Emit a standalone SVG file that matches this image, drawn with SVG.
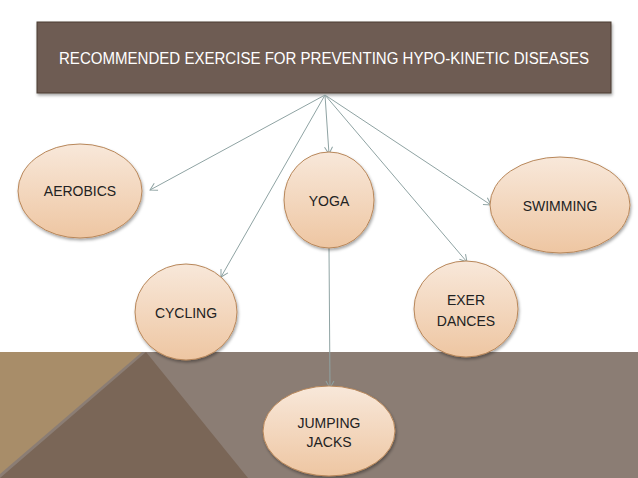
<svg xmlns="http://www.w3.org/2000/svg" width="638" height="478" viewBox="0 0 638 478">
<defs>
<linearGradient id="g" x1="0" y1="0" x2="0" y2="1"><stop offset="0" stop-color="#f8e8da"/><stop offset="1" stop-color="#eec6a2"/></linearGradient>
<marker id="a" markerWidth="10" markerHeight="10" refX="8" refY="5" orient="auto" markerUnits="userSpaceOnUse"><path d="M1,1 L8,5 L1,9" fill="none" stroke="#8fa3a3" stroke-width="1"/></marker>
<filter id="s" x="-20%" y="-20%" width="140%" height="140%"><feDropShadow dx="1" dy="2" stdDeviation="1.5" flood-opacity="0.35"/></filter>
</defs>
<style>
.n{fill:url(#g);stroke:#b8875a;stroke-width:1;filter:url(#s)}
.t{font-family:"Liberation Sans",Arial,sans-serif;font-size:14px;fill:#222;text-anchor:middle}
.c{stroke:#8fa3a3;stroke-width:1;fill:none;marker-end:url(#a)}
</style>
<rect width="638" height="478" fill="#fff"/>
<rect x="0" y="352" width="638" height="126" fill="#8b7d74"/>
<polygon points="0,352 142,352 0,474" fill="#a88d69"/>
<polygon points="146,352 248,478 0,478" fill="#7a6657"/>
<g id="header"><rect x="37" y="22" width="574" height="71" fill="#6e5c52" stroke="#4a3c34" filter="url(#s)"/>
<text x="324" y="64" font-family="Liberation Sans,Arial,sans-serif" font-size="16" fill="#fff" text-anchor="middle" textLength="530" lengthAdjust="spacingAndGlyphs">RECOMMENDED EXERCISE FOR PREVENTING HYPO-KINETIC DISEASES</text></g>
<g id="connectors">
<line class="c" x1="325" y1="95" x2="150" y2="190"/>
<line class="c" x1="325" y1="95" x2="221" y2="277"/>
<line class="c" x1="325" y1="95" x2="329" y2="154"/>
<line class="c" x1="325" y1="95" x2="467" y2="262"/>
<line class="c" x1="325" y1="95" x2="491" y2="205"/>
<line class="c" x1="329" y1="248" x2="330" y2="388"/>
</g>
<g id="aerobics"><ellipse class="n" cx="80" cy="191" rx="62" ry="47"/><text class="t" x="80" y="196">AEROBICS</text></g>
<g id="yoga"><ellipse class="n" cx="329" cy="200" rx="45" ry="48"/><text class="t" x="329" y="206">YOGA</text></g>
<g id="swimming"><ellipse class="n" cx="560" cy="205" rx="70" ry="48"/><text class="t" x="560" y="211">SWIMMING</text></g>
<g id="cycling"><ellipse class="n" cx="186" cy="312" rx="51" ry="48"/><text class="t" x="186" y="318">CYCLING</text></g>
<g id="exer"><ellipse class="n" cx="466" cy="309" rx="52" ry="48"/><text class="t" x="466" y="305">EXER</text><text class="t" x="466" y="326">DANCES</text></g>
<g id="jumping"><ellipse class="n" cx="329" cy="431" rx="66" ry="45"/><text class="t" x="329" y="428">JUMPING</text><text class="t" x="329" y="447">JACKS</text></g>
</svg>
